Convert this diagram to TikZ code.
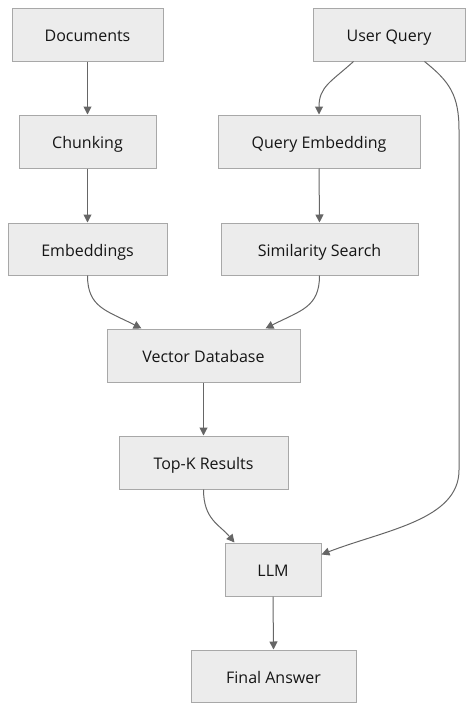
\documentclass[tikz,border=0pt]{standalone}
\usepackage{fontspec}
\setmainfont{Open Sans}
\usetikzlibrary{arrows.meta,calc}
\definecolor{boxfill}{HTML}{ECECEC}
\definecolor{boxline}{HTML}{A8A8A8}
\definecolor{arrline}{HTML}{666666}
\definecolor{txt}{HTML}{151515}
\tikzset{
  box/.style={draw=boxline, fill=boxfill, line width=1pt, inner sep=0pt,
    text height=14pt, text depth=0pt,
    font=\fontsize{16}{19}\selectfont, text=txt},
  arr/.style={draw=arrline, line width=1pt, -{Triangle[length=8pt,width=8pt]}},
}
\begin{document}
\begin{tikzpicture}[x=1pt,y=-1pt]
\useasboundingbox (0,0) rectangle (474,712);
\node[box, minimum width=151pt, minimum height=53pt] (doc) at (87.5,34.5) {Documents};
\node[box, minimum width=152pt, minimum height=53pt] (uq) at (389,34.5) {User Query};
\node[box, minimum width=137pt, minimum height=53pt] (chunk) at (87.5,141.5) {Chunking};
\node[box, minimum width=202pt, minimum height=53pt] (qe) at (319,141.5) {Query Embedding};
\node[box, minimum width=159pt, minimum height=52pt] (emb) at (87.5,249) {Embeddings};
\node[box, minimum width=197pt, minimum height=52pt] (ss) at (319.5,249) {Similarity Search};
\node[box, minimum width=193pt, minimum height=53pt] (vdb) at (203.5,355.5) {Vector Database};
\node[box, minimum width=169pt, minimum height=53pt] (topk) at (203.5,462.5) {Top-K Results};
\node[box, minimum width=96pt, minimum height=53pt] (llm) at (273,569.5) {LLM};
\node[box, minimum width=165pt, minimum height=52pt] (fa) at (273.5,676) {Final Answer};

\draw[arr] (doc.south) -- (chunk.north);
\draw[arr] (chunk.south) -- (emb.north);
\draw[arr] (qe.south) -- (ss.north);
\draw[arr] (vdb.south) -- (topk.north);
\draw[arr] (llm.south) -- (fa.north);

\draw[arr] ($(uq.south west)+(41,0)$) .. controls +(-22,20) and +(0,-28) .. (qe.north);
\draw[arr] (emb.south) .. controls +(0,32) and +(-35,-18) .. ($(vdb.north west)+(35,0)$);
\draw[arr] (ss.south) .. controls +(0,32) and +(35,-18) .. ($(vdb.north east)+(-35,0)$);
\draw[arr] (topk.south) .. controls +(0,30) and +(-15,-18) .. ($(llm.north west)+(10,0)$);
\draw[arr] ($(uq.south east)+(-41,0)$) .. controls +(25,20) and +(0,-35) .. (459,130)
   -- (459,470) .. controls (459,520) and (385,530) .. ($(llm.east)+(0,-15)$);
\end{tikzpicture}
\end{document}
